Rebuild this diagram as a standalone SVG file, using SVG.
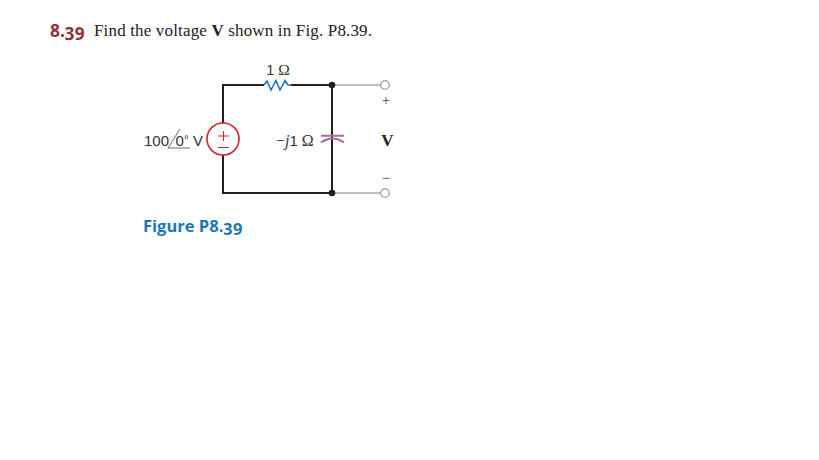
<svg xmlns="http://www.w3.org/2000/svg" width="819" height="460" viewBox="0 0 819 460">
<style>
.t{font-family:"Liberation Serif",serif}
.s{font-family:"Liberation Sans",sans-serif;fill:#333}
.h{font-family:"Open Sans",sans-serif;font-weight:700;font-variant-numeric:oldstyle-nums}
.w{fill:none;stroke:#231f20;stroke-width:2}
.g{fill:none;stroke:#bcbec0;stroke-width:2}
.o{fill:#fff;stroke:#a7a9ac;stroke-width:1.5}
.d{fill:#231f20}
</style>
<rect width="819" height="460" fill="#fff"/>
<g id="heading">
<text class="h" x="50" y="37" font-size="17.200" fill="#8e2f36">8.39</text>
<text class="t" x="94" y="36" font-size="17" fill="#222" textLength="278" lengthAdjust="spacing">Find the voltage <tspan font-weight="700">V</tspan> shown in Fig. P8.39.</text>
</g>
<g id="connectors">
<path class="w" d="M223 123V85H264M291 85H332V193H223V155"/>
<path class="g" d="M332 85H381M332 193H381"/>
</g>
<g id="resistor">
<path d="M264 85L267 81L271 90L276 80.500L280 90L285 80.500L288 85H291" fill="none" stroke="#1c75bc" stroke-width="1.600"/>
<text class="s" x="278" y="75" font-size="14.500" text-anchor="middle">1 <tspan font-family="Liberation Serif" font-size="15.500">Ω</tspan></text>
</g>
<g id="source">
<circle cx="223" cy="139" r="16" fill="#fff" stroke="#d2232a" stroke-width="1.600"/>
<path d="M218 136H229M223.500 131V141M218 147.500H229" fill="none" stroke="#d2232a" stroke-width="1"/>
<text class="s" x="144" y="146" font-size="15">100</text>
<path d="M168 148L180 129M168 148H190" fill="none" stroke="#555" stroke-width="0.900"/>
<text class="s" x="175.500" y="146" font-size="15">0</text>
<text class="s" x="184" y="144" font-size="12">°</text>
<text class="s" x="193" y="146" font-size="15">V</text>
</g>
<g id="capacitor">
<path d="M321 135.700H344M321 142.500Q332.500 134.500 344 142.500" fill="none" stroke="#a0709a" stroke-width="2"/>
<text class="t" x="276" y="146" font-size="16" fill="#333">−<tspan font-style="italic">j</tspan><tspan font-family="Liberation Sans" font-size="15">1</tspan> Ω</text>
</g>
<g id="junction-top"><circle class="d" cx="332" cy="85" r="3.300"/></g>
<g id="junction-bottom"><circle class="d" cx="332" cy="193" r="3.300"/></g>
<g id="terminal-top"><circle class="o" cx="385" cy="85" r="4.300"/></g>
<g id="terminal-bottom"><circle class="o" cx="385" cy="193" r="4.300"/></g>
<g id="labels">
<text class="t" x="386" y="105" font-size="15" text-anchor="middle" fill="#444">+</text>
<text class="t" x="387.500" y="146" font-size="17" font-weight="700" text-anchor="middle" fill="#222">V</text>
<text class="t" x="386" y="183" font-size="15" text-anchor="middle" fill="#444">−</text>
</g>
<g id="caption">
<text class="h" x="143" y="232" font-size="16.500" font-weight="600" fill="#1b75b5">Figure P8.39</text>
</g>
</svg>
